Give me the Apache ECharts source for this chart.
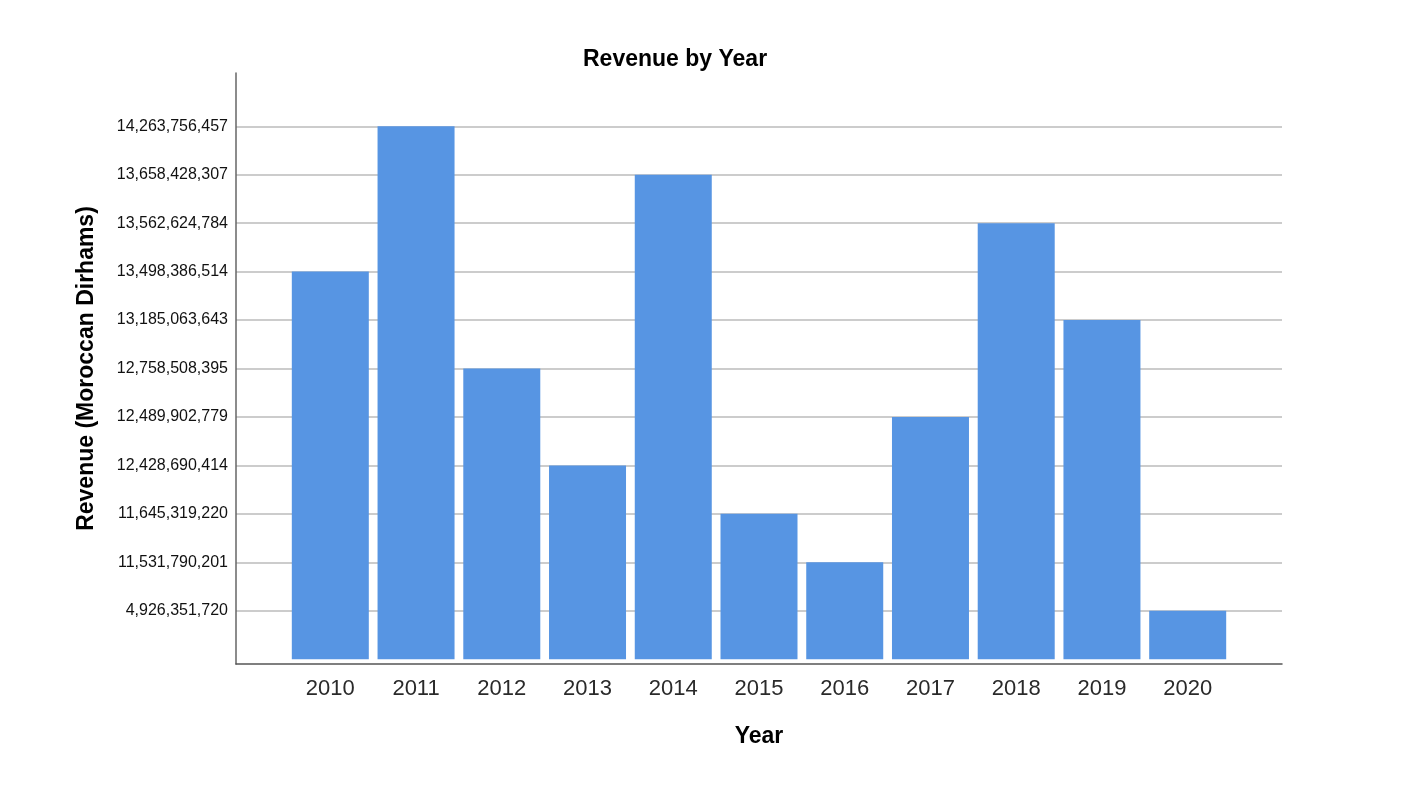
<!DOCTYPE html>
<html>
<head>
<meta charset="utf-8">
<script src="https://cdn.jsdelivr.net/npm/echarts@6/dist/echarts.min.js"></script>
<style>
html,body{margin:0;padding:0;background:#fff;}
#chart{width:1423px;height:795px;}
</style>
</head>
<body>
<div id="chart"></div>
<script>
const years = [2010, 2011, 2012, 2013, 2014, 2015, 2016, 2017, 2018, 2019, 2020];
const revenue = [13498386514, 14263756457, 12758508395, 12428690414, 13658428307, 11645319220, 11531790201, 12489902779, 13562624784, 13185063643, 4926351720];

// SPSS-style axis: each distinct value is one evenly spaced tick (ordered by value)
const sortedRevenue = revenue.slice().sort((a, b) => a - b);
const tickRanks = sortedRevenue.map((v, i) => i + 1);
const tickLabels = sortedRevenue.map(v => v.toLocaleString('en-US'));
const barData = years.map((y, i) => [y, sortedRevenue.indexOf(revenue[i]) + 1]);

const FONT = 'Liberation Sans, Arial, sans-serif';
const chart = echarts.init(document.getElementById('chart'), null, {renderer: 'canvas'});
chart.setOption({
  animation: false,
  backgroundColor: '#ffffff',
  title: {
    text: 'Revenue by Year',
    left: 578,
    top: 43,
    textStyle: {fontFamily: FONT, fontSize: 23, fontWeight: 'bold', color: '#000'}
  },
  grid: {left: 236, right: 141, top: 73, bottom: 131, containLabel: false},
  xAxis: {
    type: 'value',
    min: years[0] - 1.1,
    max: years[years.length - 1] + 1.1,
    name: 'Year',
    nameLocation: 'middle',
    nameGap: 61,
    nameTextStyle: {fontFamily: FONT, fontSize: 23, fontWeight: 'bold', color: '#000'},
    axisLine: {show: true, onZero: false, lineStyle: {color: '#555', width: 1.5}},
    axisTick: {show: false, customValues: years},
    splitLine: {show: false},
    axisLabel: {
      customValues: years,
      formatter: v => String(Math.round(v)),
      margin: 14,
      fontFamily: FONT,
      fontSize: 22,
      color: '#2a2a2a'
    }
  },
  yAxis: {
    type: 'value',
    min: -0.1,
    max: tickRanks.length + 1.1,
    name: 'Revenue (Moroccan Dirhams)',
    nameLocation: 'middle',
    nameGap: 138,
    nameTextStyle: {fontFamily: FONT, fontSize: 23, fontWeight: 'bold', color: '#000'},
    axisLine: {show: true, onZero: false, lineStyle: {color: '#666', width: 1.5}},
    axisTick: {show: false, customValues: tickRanks},
    splitLine: {show: true, customValues: tickRanks, lineStyle: {color: '#bbbbbb', width: 1.5}},
    axisLabel: {
      customValues: tickRanks,
      formatter: v => tickLabels[Math.round(v) - 1] || '',
      margin: 8,
      fontFamily: FONT,
      fontSize: 16,
      color: '#111'
    }
  },
  series: [{
    type: 'bar',
    data: barData,
    barWidth: 77,
    itemStyle: {color: '#5795e3'}
  }]
});
</script>
</body>
</html>
